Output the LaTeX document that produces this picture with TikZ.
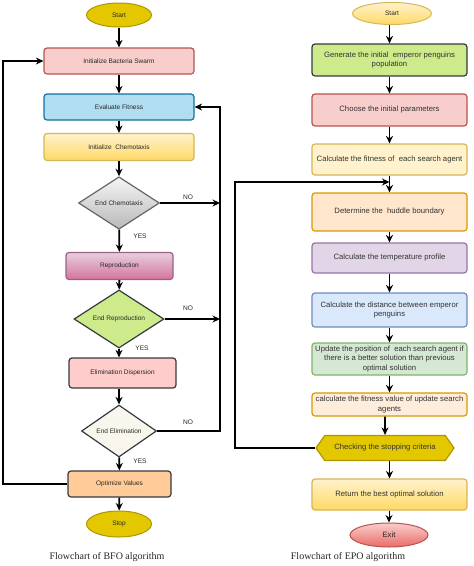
\documentclass[tikz,border=0pt]{standalone}
\usepackage{fontspec}
\setmainfont{Liberation Serif}
\setsansfont{Liberation Sans}
\usetikzlibrary{shapes.geometric,shapes.symbols,arrows.meta}
\definecolor{gold}{HTML}{E3C800}
\definecolor{goldline}{HTML}{B09500}
\definecolor{pinkf}{HTML}{F8CECC}
\definecolor{pinkd}{HTML}{B85450}
\definecolor{bluef}{HTML}{B1DDF0}
\definecolor{blued}{HTML}{10739E}
\definecolor{yelf}{HTML}{FFF2CC}
\definecolor{yelg}{HTML}{FFD966}
\definecolor{yeld}{HTML}{D6B656}
\definecolor{magf}{HTML}{E6D0DE}
\definecolor{magg}{HTML}{D5739D}
\definecolor{magd}{HTML}{996185}
\definecolor{limef}{HTML}{CDEB8B}
\definecolor{darkd}{HTML}{36393D}
\definecolor{rosef}{HTML}{FFCCCC}
\definecolor{creamf}{HTML}{F9F7ED}
\definecolor{peachf}{HTML}{FFCC99}
\definecolor{orf}{HTML}{FFE6CC}
\definecolor{ord}{HTML}{D79B00}
\definecolor{purf}{HTML}{E1D5E7}
\definecolor{purd}{HTML}{9673A6}
\definecolor{skyf}{HTML}{DAE8FC}
\definecolor{skyd}{HTML}{6C8EBF}
\definecolor{grnf}{HTML}{D5E8D4}
\definecolor{grnd}{HTML}{82B366}
\definecolor{redg}{HTML}{EA6B66}

\begin{document}
\begin{tikzpicture}[x=1pt,y=-1pt,>={Stealth[length=7.5pt,width=7pt]},
  bfo/.style={draw,rounded corners=3pt,line width=1.2pt,inner sep=0.5pt,align=center,
    text=black!85,font=\sffamily\fontsize{6.5}{7.7}\selectfont},
  epo/.style={bfo,minimum width=155pt,text=black!80,font=\sffamily\fontsize{7.7}{9.5}\selectfont},
  dec/.style={diamond,draw,line width=1.2pt,inner sep=0pt,text=black!85,
    font=\sffamily\fontsize{6.5}{7.7}\selectfont},
  term/.style={ellipse,draw,line width=1pt,inner sep=0pt,text=black!85,
    font=\sffamily\fontsize{6.5}{7.7}\selectfont},
  lbl/.style={text=black!85,font=\sffamily\fontsize{6.6}{7.7}\selectfont},
  captxt/.style={text=black!85,font=\rmfamily\fontsize{10}{12}\selectfont},
  link/.style={->,line width=1.8pt},
  slim/.style={->,line width=0.9pt}]
\useasboundingbox (0,0) rectangle (474,566);
% BFO
\node[term,fill=gold,draw=goldline,minimum width=65pt,minimum height=24pt] (st1) at (119,15) {Start};
\node[bfo,fill=pinkf,draw=pinkd,minimum width=150pt,minimum height=26pt] (ibs) at (119,61) {Initialize Bacteria Swarm};
\node[bfo,fill=bluef,draw=blued,minimum width=150pt,minimum height=26pt] (ef) at (119,107) {Evaluate Fitness};
\node[bfo,top color=yelf,bottom color=yelg,draw=yeld,minimum width=150pt,minimum height=27pt] (ic) at (119,147) {Initialize\ \ Chemotaxis};
\node[dec,top color=gray!8,bottom color=gray!55,draw=black!60,minimum width=81pt,minimum height=46pt] (ec) at (119,203) {End Chemotaxis};
\node[bfo,top color=magf,bottom color=magg,draw=magd,minimum width=107pt,minimum height=27pt] (rep) at (119.5,266) {Reproduction};
\node[dec,fill=limef,draw=darkd,minimum width=90pt,minimum height=52pt] (er) at (119,319) {End Reproduction};
\node[bfo,fill=rosef,draw=darkd,minimum width=107pt,minimum height=30pt] (ed) at (122.5,373) {Elimination Dispersion};
\node[dec,fill=creamf,draw=darkd,minimum width=75pt,minimum height=52pt] (ee) at (119,431) {End Elimination};
\node[bfo,fill=peachf,draw=darkd,minimum width=103pt,minimum height=26pt] (ov) at (119.5,484) {Optimize Values};
\node[term,fill=gold,draw=goldline,minimum width=65pt,minimum height=26pt] (sp1) at (119,524) {Stop};
\node[captxt] (c1) at (107,557) {Flowchart of BFO algorithm};
\coordinate (rt) at (220,107);
\coordinate (lt) at (3,61);
\draw[link] (st1) -- (ibs);
\draw[link] (ibs) -- (ef);
\draw[link] (ef) -- (ic);
\draw[link] (ic) -- (ec);
\draw[link] (ec) -- (rep);
\draw[link] (rep) -- (er);
\draw[link] (er) -- (ed.north -| er.south);
\draw[link] (ed.south -| ee.north) -- (ee);
\draw[link] (ee) -- (ov);
\draw[link] (ov) -- (sp1);
\draw[link] (ec.east) -- (ec.east -| rt);
\draw[link] (er.east) -- (er.east -| rt);
\draw[link] (ee.east) -| (rt) -- (ef.east);
\draw[link] (ov.west) -| (lt) -- (ibs.west);
\node[lbl] (n1) at (188,197) {NO};
\node[lbl] (n2) at (188,308) {NO};
\node[lbl] (n3) at (188,422) {NO};
\node[lbl] (y1) at (140,236) {YES};
\node[lbl] (y2) at (142,348) {YES};
\node[lbl] (y3) at (140,461) {YES};
% EPO
\node[term,top color=yelf,bottom color=yelg,draw=yeld,minimum width=79pt,minimum height=22pt] (st2) at (392,13.5) {Start};
\node[epo,fill=limef,draw=darkd,minimum height=32pt] (gen) at (389.5,60) {Generate the initial\ \ emperor penguins\\population};
\node[epo,fill=pinkf,draw=pinkd,minimum height=32pt] (cho) at (389.5,110) {Choose the initial parameters};
\node[epo,fill=yelf,draw=yeld,minimum height=31pt] (cf) at (389.5,159.5) {Calculate the fitness of\ \ each search agent};
\node[epo,fill=orf,draw=ord,minimum height=38pt] (det) at (389.5,212) {Determine the\ \ huddle boundary};
\node[epo,fill=purf,draw=purd,minimum height=30pt] (tem) at (389.5,258) {Calculate the temperature profile};
\node[epo,fill=skyf,draw=skyd,minimum height=34pt] (dis) at (389.5,310) {Calculate the distance between emperor\\penguins};
\node[epo,fill=grnf,draw=grnd,minimum height=32pt] (upd) at (389.5,359) {Update the position of\ \ each search agent if\\there is a better solution than previous\\optimal solution};
\node[epo,fill=orf!70,draw=ord,minimum height=23pt] (cfv) at (389.5,404.5) {calculate the fitness value of update search\\agents};
\node[signal,signal to=west and east,signal pointer angle=110,draw,line width=1.2pt,fill=gold,draw=goldline,
  inner sep=1pt,text=black!80,font=\sffamily\fontsize{7.7}{9.5}\selectfont,minimum width=138pt,minimum height=25pt] (chk) at (385,448) {Checking the stopping criteria};
\node[epo,top color=yelf,bottom color=yelg,draw=yeld,minimum height=31pt] (ret) at (389.5,494.5) {Return the best optimal solution};
\node[term,top color=pinkf,bottom color=redg,draw=pinkd,minimum width=78pt,minimum height=24pt,
  font=\sffamily\fontsize{7.7}{9.5}\selectfont] (ex) at (389,535) {Exit};
\node[captxt] (c2) at (348,557) {Flowchart of EPO algorithm};
\coordinate (lp) at (235,182);
\draw[link] (st2.south -| gen.north) -- (gen);
\draw[link] (gen) -- (cho);
\draw[link] (cho) -- (cf);
\draw[link] (cf) -- (det);
\draw[link] (det) -- (tem);
\draw[link] (tem) -- (dis);
\draw[link] (dis) -- (upd);
\draw[link] (upd) -- (cfv);
\draw[link] (cfv.south -| chk.north) -- (chk);
\draw[slim] (chk.south -| ret.north) -- (ret);
\draw[slim] (ret.south -| ex.north) -- (ex);
\draw[link] (chk.west) -| (lp) -- (lp -| cf.south);
\end{tikzpicture}
\end{document}
